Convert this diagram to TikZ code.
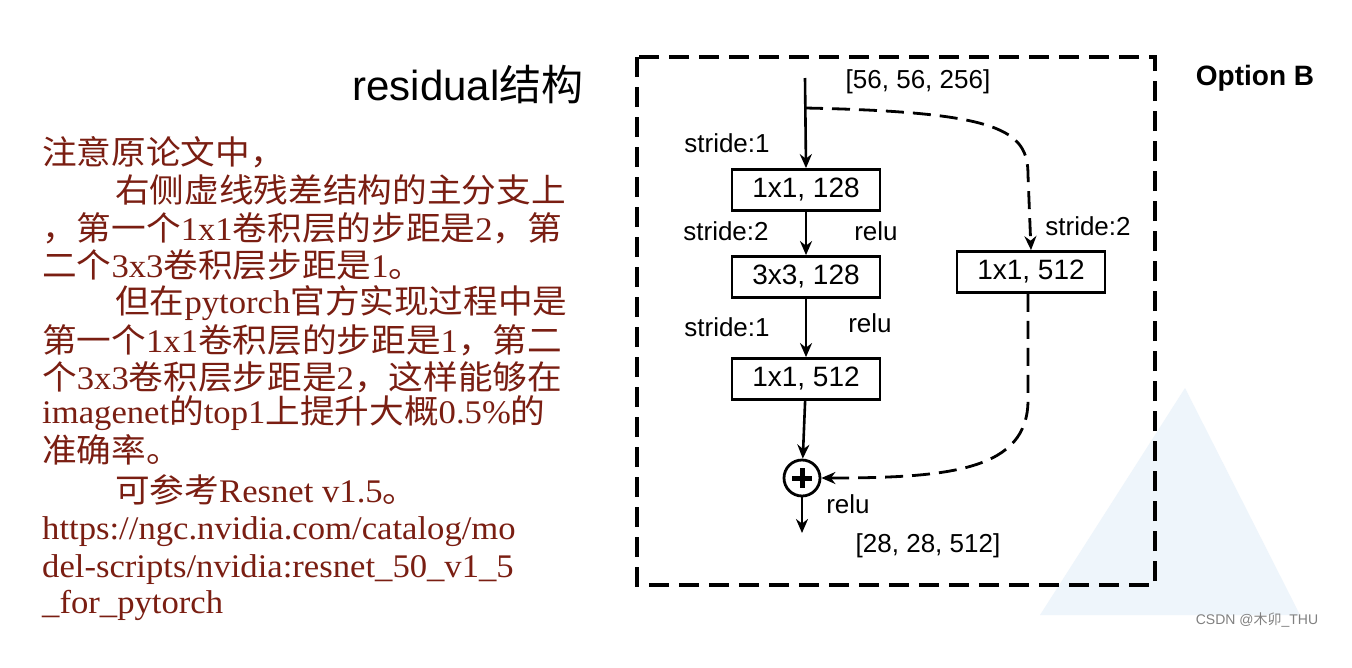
\documentclass[tikz,border=0pt]{standalone}
\usepackage{fontspec}
\setmainfont{Liberation Sans}
\newfontfamily\cjk{Noto Sans CJK SC}
\newfontfamily\serifa{Liberation Serif}
\usetikzlibrary{arrows.meta}
\definecolor{brn}{HTML}{7A1E12}
\definecolor{tri}{HTML}{EEF5FB}
\begin{document}
\begin{tikzpicture}[x=1pt,y=-1pt,
 box/.style={draw,line width=2.8pt,minimum width=148pt,minimum height=41pt,font=\fontsize{28}{28}\selectfont,inner sep=0pt},
 lab/.style={font=\fontsize{26}{26}\selectfont},
 ar/.style={line width=2.6pt,-{Stealth[length=14pt,width=12pt]}},
 dsh/.style={line width=2.8pt,dash pattern=on 18pt off 9pt},
 lt/.style={anchor=west,text=brn,font=\fontsize{33}{33}\selectfont\serifa,inner sep=0pt,xscale=1.05}]
\useasboundingbox (0,0) rectangle (1352,667);
\fill[white] (0,0) rectangle (1352,667);
\fill[tri] (1040,615) -- (1185,388) -- (1300,615) -- cycle;
\node[font=\fontsize{42}{42}\selectfont] (title) at (468,85) {residual{\cjk 结构}};
\node[lt] (l1) at (42,152) {\cjk 注意原论文中，};
\node[lt] (l2) at (115,190) {\cjk 右侧虚线残差结构的主分支上};
\node[lt] (l3) at (42,228) {\cjk ，第一个\serifa 1x1\cjk 卷积层的步距是\serifa 2\cjk ，第};
\node[lt] (l4) at (42,265) {\cjk 二个\serifa 3x3\cjk 卷积层步距是\serifa 1\cjk 。};
\node[lt] (l5) at (115,303) {\cjk 但在\serifa pytorch\cjk 官方实现过程中是};
\node[lt] (l6) at (42,340) {\cjk 第一个\serifa 1x1\cjk 卷积层的步距是\serifa 1\cjk ，第二};
\node[lt] (l7) at (42,377) {\cjk 个\serifa 3x3\cjk 卷积层步距是\serifa 2\cjk ，这样能够在};
\node[lt] (l8) at (42,413) {imagenet{\cjk 的}top1{\cjk 上提升大概}0.5\%{\cjk 的}};
\node[lt] (l9) at (42,450) {\cjk 准确率。};
\node[lt] (l10) at (115,490) {{\cjk 可参考}Resnet v1.5{\cjk 。}};
\node[lt] (l11) at (42,532) {https://ngc.nvidia.com/catalog/mo};
\node[lt] (l12) at (42,570) {del-scripts/nvidia:resnet\_50\_v1\_5};
\node[lt] (l13) at (42,605) {\_for\_pytorch};
\draw[line width=3.2pt,dash pattern=on 20pt off 10pt] (637,57) rectangle (1155,585);
\node[font=\fontsize{28}{28}\selectfont\bfseries] (opt) at (1255,78) {Option B};
\coordinate (top) at (805,78);
\coordinate (split) at (805,108);
\node[box] (b1) at (806,190) {1x1, 128};
\node[box] (b2) at (806,277) {3x3, 128};
\node[box] (b3) at (806,379) {1x1, 512};
\node[box] (b4) at (1031,272) {1x1, 512};
\node[circle,draw,line width=2.8pt,minimum size=36pt,inner sep=0pt] (add) at (802,478) {};
\draw[line width=5pt] (add.center) ++(-10,0) -- ++(20,0) (add.center) ++(0,-10) -- ++(0,20);
\coordinate (out) at (802,533);
\node[lab] (in) at (918,82) {[56, 56, 256]};
\node[lab] (s1) at (727,143) {stride:1};
\node[lab] (s2) at (726,231) {stride:2};
\node[lab] (r1) at (876,231) {relu};
\node[lab] (s3) at (727,327) {stride:1};
\node[lab] (r2) at (870,323) {relu};
\node[lab] (r3) at (848,504) {relu};
\node[lab] (o) at (928,546) {[28, 28, 512]};
\node[lab] (s4) at (1088,226) {stride:2};
\draw[ar] (top) -- (b1.north);
\draw[ar] (b1) -- (b2);
\draw[ar] (b2) -- (b3);
\draw[ar] (b3) -- (add);
\draw[ar] (add) -- (out);
\draw[dsh,-{Stealth[length=14pt,width=12pt]}] (split) .. controls (1000,112) and (1028,130) .. (1028,175) -- (b4.north);
\draw[dsh,-{Stealth[length=14pt,width=12pt]}] (b4.south -| 1028,0) -- (1028,400) .. controls (1028,470) and (950,478) .. (add.east);
\node[font=\fontsize{14}{14}\selectfont,text=gray] (wm) at (1257,620) {CSDN @{\cjk 木卯}\_THU};
\end{tikzpicture}
\end{document}
